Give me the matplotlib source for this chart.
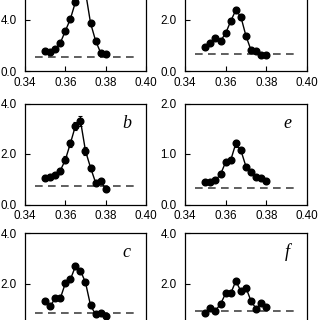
import matplotlib
matplotlib.use("Agg")
import matplotlib.pyplot as plt

# wavelength-like x values shared by all panels
x = [0.35, 0.3525, 0.355, 0.3575, 0.36, 0.3625, 0.365,
     0.3675, 0.37, 0.3725, 0.375, 0.3775, 0.38]

a_y = [1.57, 1.49, 1.73, 2.2, 3.14, 4.08, 5.4, 7.0, 6.2, 3.76, 2.38, 1.43, 1.33]
a_err = [0.05, 0.05, 0.05, 0.06, 0.08, 0.1, 0.12, 0.15, 0.12, 0.1, 0.08, 0.05, 0.05]
a_base = 1.1

b_y = [1.06, 1.09, 1.15, 1.34, 1.77, 2.42, 3.11, 3.32, 2.12, 1.46, 0.87, 0.92, 0.62]
b_err = [0.1, 0.1, 0.1, 0.12, 0.14, 0.15, 0.16, 0.2, 0.14, 0.12, 0.08, 0.08, 0.06]
b_base = 0.75

c_y = [1.31, 1.10, 1.42, 1.41, 2.01, 2.16, 2.68, 2.51, 2.04, 1.13, 0.78, 0.84, 0.71]
c_err = [0.05, 0.05, 0.05, 0.05, 0.06, 0.06, 0.12, 0.08, 0.06, 0.05, 0.05, 0.05, 0.05]
c_base = 0.85

d_y = [0.93, 1.08, 1.28, 1.18, 1.48, 1.96, 2.39, 2.12, 1.37, 0.81, 0.80, 0.64, 0.64]
d_err = [0.05, 0.05, 0.05, 0.05, 0.06, 0.08, 0.12, 0.08, 0.06, 0.05, 0.04, 0.04, 0.04]
d_base = 0.65

e_y = [0.45, 0.44, 0.48, 0.6, 0.84, 0.88, 1.21, 1.07, 0.75, 0.64, 0.54, 0.52, 0.47]
e_err = [0.03, 0.03, 0.03, 0.04, 0.05, 0.05, 0.07, 0.05, 0.04, 0.03, 0.03, 0.03, 0.03]
e_base = 0.33

f_y = [0.83, 1.03, 0.93, 1.19, 1.61, 1.61, 2.10, 1.69, 1.83, 1.30, 1.00, 1.23, 1.08]
f_err = [0.03] * 13
f_base = 0.92

base_x = [0.345, 0.395]
xticks = [0.34, 0.36, 0.38, 0.40]

panels = [
    # label, y, err, baseline, ylim top, yticks, [left, bottom, w, h] in px from top-left
    ("a", a_y, a_err, a_base, 8.0, [0.0, 4.0, 8.0], (25, 71, 121, 102)),
    ("b", b_y, b_err, b_base, 4.0, [0.0, 2.0, 4.0], (25, 204.5, 121, 101)),
    ("c", c_y, c_err, c_base, 4.0, [0.0, 2.0, 4.0], (25, 334, 121, 101)),
    ("d", d_y, d_err, d_base, 4.0, [0.0, 2.0, 4.0], (185, 71, 122, 102)),
    ("e", e_y, e_err, e_base, 2.0, [0.0, 1.0, 2.0], (185, 204.5, 122, 101)),
    ("f", f_y, f_err, f_base, 4.0, [0.0, 2.0, 4.0], (185, 334, 122, 101)),
]

plt.rcParams["font.family"] = ["Liberation Sans", "DejaVu Sans"]

W = H = 320
fig = plt.figure(figsize=(W / 100, H / 100), dpi=100)

for label, y, err, base, ytop, yticks, (left, bottom, w, h) in panels:
    ax = fig.add_axes([left / W, (H - bottom) / H, w / W, h / H])
    ax.plot(base_x, [base, base], color="#444444", lw=1.2,
            linestyle=(0, (4.6, 3.2)))
    ax.errorbar(x, y, yerr=err, color="black", lw=1.0, marker="o",
                markersize=4.8, elinewidth=0.8, capsize=1.2, capthick=0.8)
    ax.set_xlim(0.34, 0.40)
    ax.set_ylim(0, ytop)
    ax.set_xticks(xticks)
    ax.set_xticklabels([f"{t:.2f}" for t in xticks])
    ax.set_yticks(yticks)
    ax.set_yticklabels([f"{t:.1f}" for t in yticks])
    ax.tick_params(direction="in", length=3.5, width=0.8, labelsize=8.4)
    ax.tick_params(axis="x", pad=4)
    ax.tick_params(axis="y", pad=6)
    for s in ax.spines.values():
        s.set_linewidth(0.9)
    ax.text(0.84, 0.76, label, transform=ax.transAxes, ha="center",
            va="baseline", fontsize=13, style="italic",
            family=["Liberation Serif", "DejaVu Serif"])

fig.savefig("out.png", dpi=100)
